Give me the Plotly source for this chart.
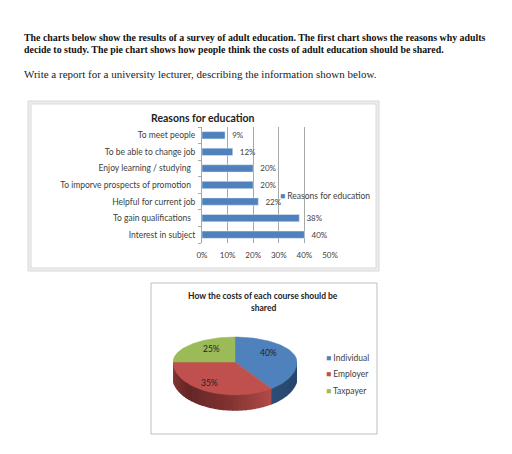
import numpy as np
import plotly.graph_objects as go

# bar chart data
reasons = ["Interest in subject", "To gain qualifications\u00a0\u00a0", "Helpful for current job",
           "To imporve prospects of promotion\u00a0\u00a0", "Enjoy learning / studying\u00a0\u00a0",
           "To be able to change job", "To meet people"]
reason_values = [40, 38, 22, 20, 20, 12, 9]

# pie chart data
payers = ["Individual", "Employer", "Taxpayer"]
payer_values = [40, 35, 25]
payer_colors = ["#4F81BD", "#C0504D", "#9BBB59"]

W, H = 512, 454
FONT = "Lato"
TEXT = "#404040"


def px_x(v):
    return v / W


def px_y(v):
    return 1 - v / H


def label(text, x, y, size=8.5, color=TEXT, family=FONT, anchor="left"):
    return dict(text=text, x=px_x(x), y=px_y(y), xref="paper", yref="paper", showarrow=False,
                xanchor=anchor, yanchor="middle", font=dict(size=size, color=color, family=family))


def box(x0, y0, x1, y1, line, fill="white", width=1):
    return dict(type="rect", xref="paper", yref="paper", x0=px_x(x0), x1=px_x(x1), y0=px_y(y0), y1=px_y(y1),
                line=dict(color=line, width=width), fillcolor=fill, layer="below")


# pie is squashed, front half a bit taller because of the perspective
RY_BACK = 25 / 62
RY_FRONT = 33 / 62
DEPTH = 15 / 62


def edge(theta):
    ry = np.where(np.cos(theta) >= 0, RY_BACK, RY_FRONT)
    return np.sin(theta), ry * np.cos(theta)


def side_shade(frac, stops):
    # stops are rgb triples spread evenly over the visible side of a slice
    pos = frac * (len(stops) - 1)
    low = min(int(pos), len(stops) - 2)
    mix = pos - low
    rgb = [round(a + (b - a) * mix) for a, b in zip(stops[low], stops[low + 1])]
    return f"rgb({rgb[0]},{rgb[1]},{rgb[2]})"


fig = go.Figure()

fig.add_trace(go.Bar(
    y=reasons, x=reason_values, orientation="h", marker_color="#4F81BD", width=0.44,
    text=[f"\u00a0\u00a0{v}%" for v in reason_values], textposition="outside", cliponaxis=False,
    constraintext="none", textfont=dict(size=8, color=TEXT, family=FONT), showlegend=False,
))

# pie slices, starting from 12 o'clock going clockwise
edges = np.cumsum([0] + payer_values) / sum(payer_values) * 2 * np.pi
side_stops = {
    0: [(38, 68, 104), (44, 77, 117)],
    1: [(176, 74, 72), (128, 50, 48), (100, 38, 37), (140, 56, 54)],
}

for i, stops in side_stops.items():
    start = max(edges[i], np.pi / 2)
    stop = min(edges[i + 1], 3 * np.pi / 2)
    cuts = np.linspace(start, stop, 31)
    for n, (c0, c1) in enumerate(zip(cuts[:-1], cuts[1:])):
        t = np.linspace(c0, c1, 6)
        x, y = edge(t)
        shade = side_shade(n / 29, stops)
        # thick outline so neighbouring strips leave no light seams
        fig.add_trace(go.Scatter(
            x=np.concatenate([x, x[::-1]]), y=np.concatenate([y, y[::-1] - DEPTH]),
            xaxis="x2", yaxis="y2", mode="lines", fill="toself", fillcolor=shade,
            line=dict(width=1.5, color=shade), hoverinfo="skip", showlegend=False,
        ))

for i, name in enumerate(payers):
    t = np.linspace(edges[i], edges[i + 1], 80)
    x, y = edge(t)
    fig.add_trace(go.Scatter(
        x=np.concatenate([[0], x, [0]]), y=np.concatenate([[0], y, [0]]),
        xaxis="x2", yaxis="y2", mode="lines", fill="toself", fillcolor=payer_colors[i],
        line=dict(width=0.5, color=payer_colors[i]), name=name, showlegend=False,
    ))

shapes = [
    box(28, 101, 379, 271, "#D8D8D8", "#EDEDED"),
    box(31, 104, 376, 268, "#DADADA"),
    box(151, 283, 377, 434, "#BFBFBF"),
]

annotations = [
    label("<b>The charts below show the results of a survey of adult education. The first chart shows the reasons why adults</b>",
          22, 38, size=9.9, color="#111111", family="Liberation Serif"),
    label("<b>decide to study. The pie chart shows how people think the costs of adult education should be shared.</b>",
          22, 49, size=9.9, color="#111111", family="Liberation Serif"),
    label("Write a report for a university lecturer, describing the information shown below.",
          22, 74, size=11, color="#222222", family="Liberation Serif"),
    label("<b>Reasons for education</b>", 203, 118, size=10.5, color="#222222", anchor="center"),
    label("<b>How the costs of each course should be</b>", 263, 296, size=8.5, color="#222222", anchor="center"),
    label("<b>shared</b>", 263, 308, size=8.5, color="#222222", anchor="center"),
    label("<span style='color:#4F81BD'>■</span> Reasons for education", 278, 196, size=8.5),
]

legend_rows = [358, 374, 391]
for name, color, row in zip(payers, payer_colors, legend_rows):
    annotations.append(label(f"<span style='color:{color}'>■</span> {name}", 324, row, size=8.5))

# percent labels sit where the original placed them
pie_label_spots = [(268, 353), (209, 383), (211, 349)]
for v, (lx, ly) in zip(payer_values, pie_label_spots):
    annotations.append(label(f"{v}%", lx, ly, size=8.5, color="#222222", anchor="center"))

fig.update_layout(
    width=W, height=H, margin=dict(l=0, r=0, t=0, b=0, autoexpand=False), paper_bgcolor="white",
    plot_bgcolor="rgba(0,0,0,0)",
    showlegend=False, shapes=shapes, annotations=annotations, font=dict(family=FONT, color=TEXT),
    xaxis=dict(domain=[px_x(202), px_x(330)], range=[0, 50], dtick=10, ticksuffix="%", showgrid=True,
               gridcolor="#A8A8A8", gridwidth=1.3, zeroline=False, showline=False, ticks="",
               tickfont=dict(size=8, color=TEXT), anchor="y", ticklabelstandoff=6),
    yaxis=dict(domain=[px_y(243), px_y(127)], type="category", showline=True, linecolor="#A8A8A8",
               ticks="outside", tickson="boundaries", ticklen=3, tickcolor="#A8A8A8", ticklabelstandoff=4,
               tickfont=dict(size=8.5, color=TEXT), showgrid=False, anchor="x"),
    xaxis2=dict(domain=[px_x(173), px_x(297)], range=[-1, 1], visible=False, anchor="y2"),
    yaxis2=dict(domain=[px_y(420), px_y(330)], range=[(362 - 420) / 62, (362 - 330) / 62], visible=False, anchor="x2"),
)

fig.write_html("out.html", post_script="document.body.style.margin='0'", config={"displayModeBar": False})
